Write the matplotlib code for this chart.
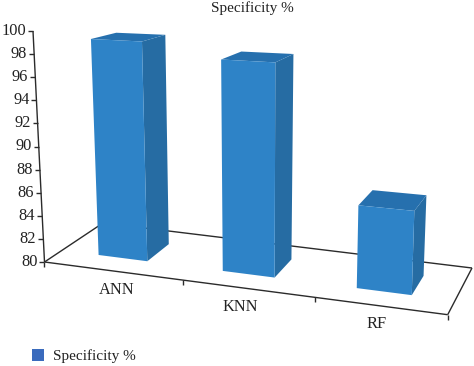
import numpy as np
import matplotlib
matplotlib.use("Agg")
import matplotlib.pyplot as plt
from matplotlib.patches import Polygon, Patch

categorias = ["ANN", "KNN", "RF"]
especificidade = [99.1, 97.9, 86.7]
ticks_y = [80, 82, 84, 86, 88, 90, 92, 94, 96, 98, 100]
serie = "Specificity %"

Z_MIN, Z_MAX = 80, 100
LARGURA = [0.124, 0.132, 0.140]
CENTROS = [0.155, 0.475, 0.820]
PROF = (0.30, 0.72)
POS_TICKS_X = [0, 0.344, 0.671, 1]
POS_ROTULOS = [0.18, 0.486, 0.823]

# cantos do piso e do plano z=100, em pixels: frente-esq, frente-dir, fundo-dir, fundo-esq
PISO = np.array([(44.5, 262), (447.7, 314.7), (472, 268), (103, 223)], dtype=float)
TETO = np.array([(33, 31), (457, 52), (483, 31), (97, 18)], dtype=float)

COR_FRENTE = "#2E83C7"
COR_LADO = "#266CA3"
COR_TOPO = "#2670AE"
COR_LEGENDA = "#3A6BBD"
COR_EIXO = "#2b2b2b"
COR_TEXTO = "#222222"


def bilinear(c, u, v):
    frente = c[0] + (c[1] - c[0]) * u
    fundo = c[3] + (c[2] - c[3]) * u
    return frente + (fundo - frente) * v


def proj(u, v, z):
    t = (z - Z_MIN) / (Z_MAX - Z_MIN)
    a = bilinear(PISO, u, v)
    b = bilinear(TETO, u, v)
    return tuple(a + (b - a) * t)


def barra(ax, i, valor):
    u0, u1 = CENTROS[i] - LARGURA[i] / 2, CENTROS[i] + LARGURA[i] / 2
    v0, v1 = PROF
    frente = [proj(u0, v0, Z_MIN), proj(u1, v0, Z_MIN), proj(u1, v0, valor), proj(u0, v0, valor)]
    lado = [proj(u1, v0, Z_MIN), proj(u1, v1, Z_MIN), proj(u1, v1, valor), proj(u1, v0, valor)]
    topo = [proj(u0, v0, valor), proj(u1, v0, valor), proj(u1, v1, valor), proj(u0, v1, valor)]
    ax.add_patch(Polygon(lado, closed=True, facecolor=COR_LADO, edgecolor="none", zorder=3))
    ax.add_patch(Polygon(topo, closed=True, facecolor=COR_TOPO, edgecolor="none", zorder=3))
    ax.add_patch(Polygon(frente, closed=True, facecolor=COR_FRENTE, edgecolor="none", zorder=4))


def linha(ax, p, q, lw=1.0):
    ax.plot([p[0], q[0]], [p[1], q[1]], color=COR_EIXO, lw=lw, solid_capstyle="butt", zorder=2)


def main():
    plt.rcParams["font.family"] = ["Liberation Serif", "DejaVu Serif"]
    fig = plt.figure(figsize=(4.74, 3.66), dpi=100)
    ax = fig.add_axes([0, 0, 1, 1])
    ax.set_xlim(0, 474)
    ax.set_ylim(366, 0)
    ax.axis("off")

    # eixo vertical e contorno do piso
    linha(ax, proj(0, 0, Z_MIN), proj(0, 0, Z_MAX))
    linha(ax, proj(0, 0, Z_MIN), proj(1, 0, Z_MIN))
    linha(ax, proj(1, 0, Z_MIN), proj(1, 1, Z_MIN))
    linha(ax, proj(1, 1, Z_MIN), proj(0, 1, Z_MIN))
    linha(ax, proj(0, 1, Z_MIN), proj(0, 0, Z_MIN))

    for t in ticks_y:
        x, y = proj(0, 0, t)
        linha(ax, (x - 5, y), (x, y))
        ax.text(x - 7, y, str(t), ha="right", va="center", fontsize=11.8, color=COR_TEXTO)

    for u in POS_TICKS_X:
        x, y = proj(u, 0, Z_MIN)
        linha(ax, (x, y), (x, y + 5))

    for u, nome in zip(POS_ROTULOS, categorias):
        x, y = proj(u, 0, Z_MIN)
        ax.text(x, y + 19, nome, ha="center", va="center", fontsize=11.8, color=COR_TEXTO)

    for i, valor in enumerate(especificidade):
        barra(ax, i, valor)

    ax.text(252, 8, serie, ha="center", va="center", fontsize=11, color=COR_TEXTO)

    ax.legend(
        handles=[Patch(facecolor=COR_LEGENDA, edgecolor="none", label=serie)],
        loc="center left",
        bbox_to_anchor=(32, 356),
        bbox_transform=ax.transData,
        frameon=False,
        fontsize=11,
        borderpad=0,
        borderaxespad=0,
        handlelength=0.8,
        handleheight=0.8,
        handletextpad=0.6,
        labelcolor=COR_TEXTO,
    )

    fig.savefig("out.png", dpi=100)
    plt.close(fig)


if __name__ == "__main__":
    main()
